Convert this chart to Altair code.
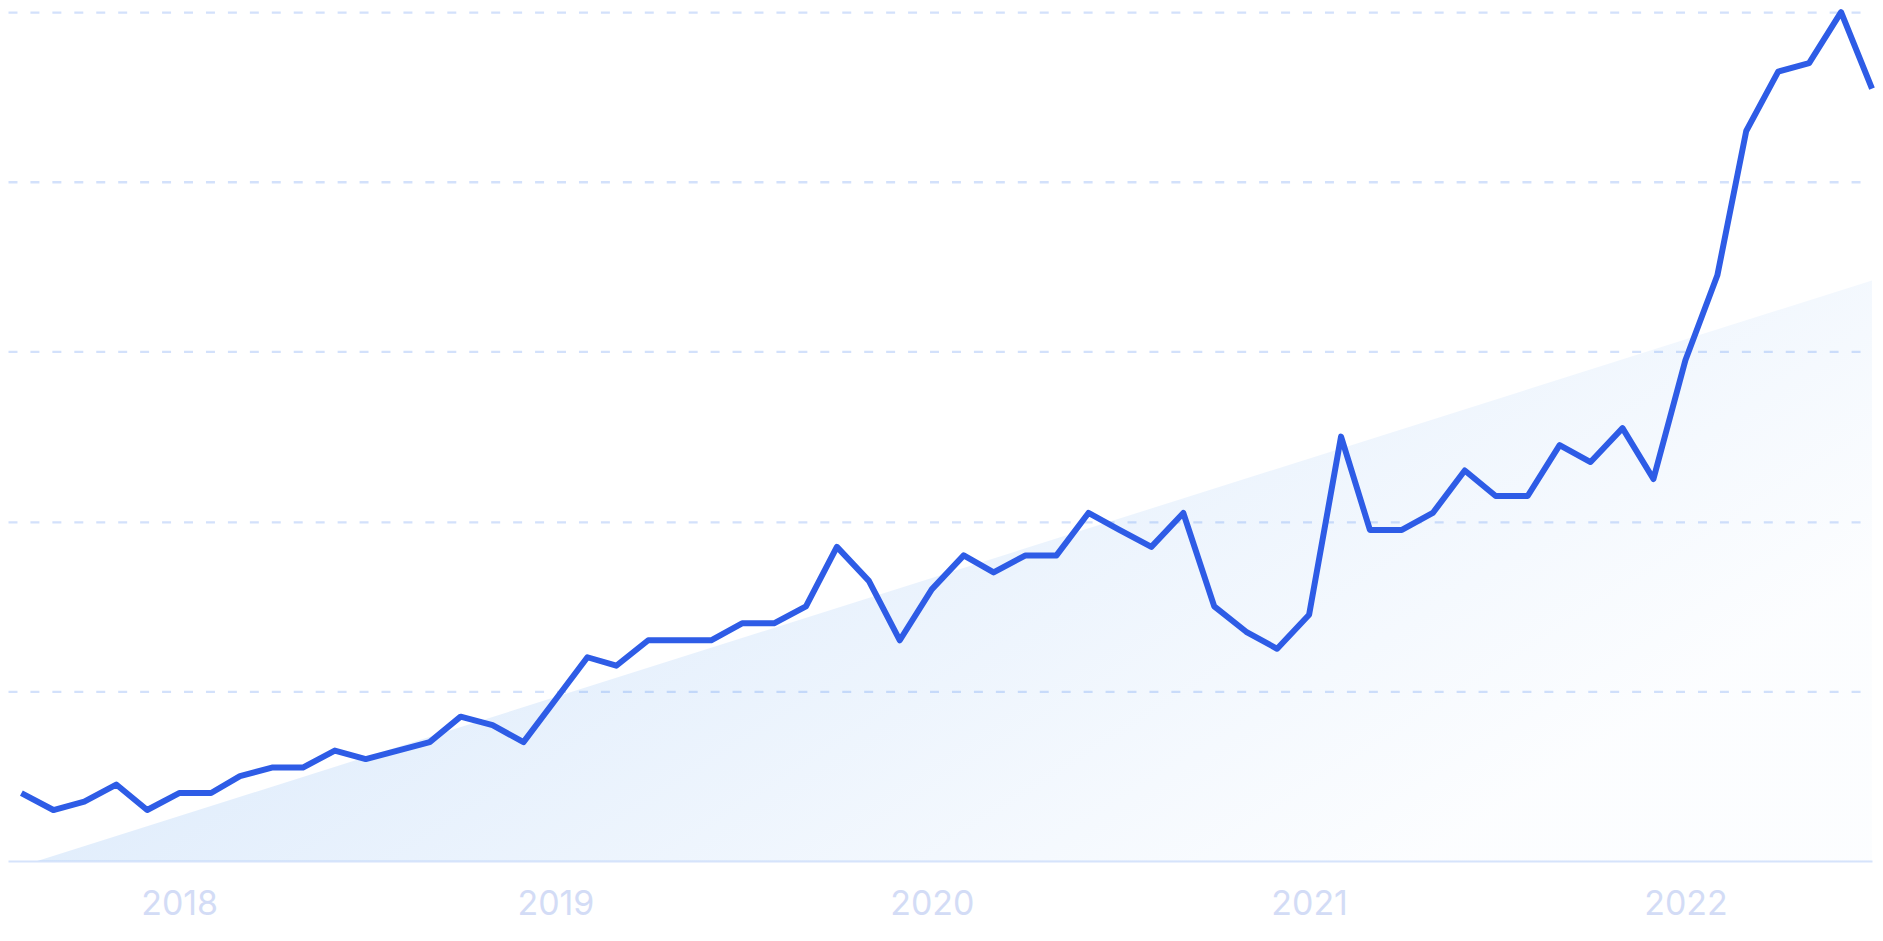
import altair as alt
import pandas as pd

# Monthly search interest, Aug 2017 - Jul 2022 (0-100 scale)
start_month = "2017-08-01"
interest = [8, 6, 7, 9, 6, 8, 8, 10, 11, 11,
            13, 12, 13, 14, 17, 16, 14, 19, 24, 23,
            26, 26, 26, 28, 28, 30, 37, 33, 26, 32,
            36, 34, 36, 36, 41, 39, 37, 41, 30, 27,
            25, 29, 50, 39, 39, 41, 46, 43, 43, 49,
            47, 51, 45, 59, 69, 86, 93, 94, 100, 91]
months = pd.date_range(start_month, periods=len(interest), freq="MS").strftime("%Y-%m-%d").tolist()

# Linear trend (start / end of series)
trend_dates = [months[0], months[-1]]
trend_values = [-0.6, 68.4]

year_ticks = [2018, 2019, 2020, 2021, 2022]
grid_values = [20, 40, 60, 80, 100]

line_df = pd.DataFrame({"date": months, "value": interest})
trend_df = pd.DataFrame({"date": trend_dates, "value": trend_values})

x_enc = alt.X(
    "date:T",
    scale=alt.Scale(
        type="utc",
        domain=[alt.DateTime(year=2017, month=7, date=19, utc=True),
                alt.DateTime(year=2022, month=7, date=1, utc=True)],
    ),
    axis=alt.Axis(
        title=None,
        values=[alt.DateTime(year=y, month=1, date=1, utc=True) for y in year_ticks],
        format="%Y",
        ticks=False,
        grid=False,
        domainColor="#d6e3fb",
        domainWidth=2,
        labelFont="Inter",
        labelFontSize=34,
        labelColor="#d3dcf6",
        labelPadding=27,
        labelFlush=False,
    ),
)
y_enc = alt.Y(
    "value:Q",
    scale=alt.Scale(domain=[0, 100], nice=False, zero=True),
    axis=alt.Axis(
        title=None,
        values=grid_values,
        labels=False,
        ticks=False,
        domain=False,
        grid=True,
        gridColor="#d3e1fb",
        gridWidth=2.3,
        gridDash=[9, 13],
    ),
)

trend = alt.Chart(trend_df).mark_area(
    clip=True,
    color=alt.Gradient(
        gradient="linear",
        x1=0, y1=0, x2=1, y2=0.5,
        stops=[
            alt.GradientStop(offset=0, color="rgba(60,140,235,0.17)"),
            alt.GradientStop(offset=0.4, color="rgba(60,140,235,0.15)"),
            alt.GradientStop(offset=0.8, color="rgba(60,140,235,0.06)"),
            alt.GradientStop(offset=1, color="rgba(60,140,235,0.015)"),
        ],
    ),
).encode(x=x_enc, y=y_enc)

line = alt.Chart(line_df).mark_line(
    color="#2e5ce6",
    strokeWidth=6,
    strokeJoin="round",
).encode(x=x_enc, y=y_enc)

chart = alt.layer(trend, line).properties(
    width=1869,
    height=851,
    padding=0,
    background="white",
).configure_view(strokeWidth=0)

chart.save("out.html", embed_options={"renderer": "svg", "actions": False})
